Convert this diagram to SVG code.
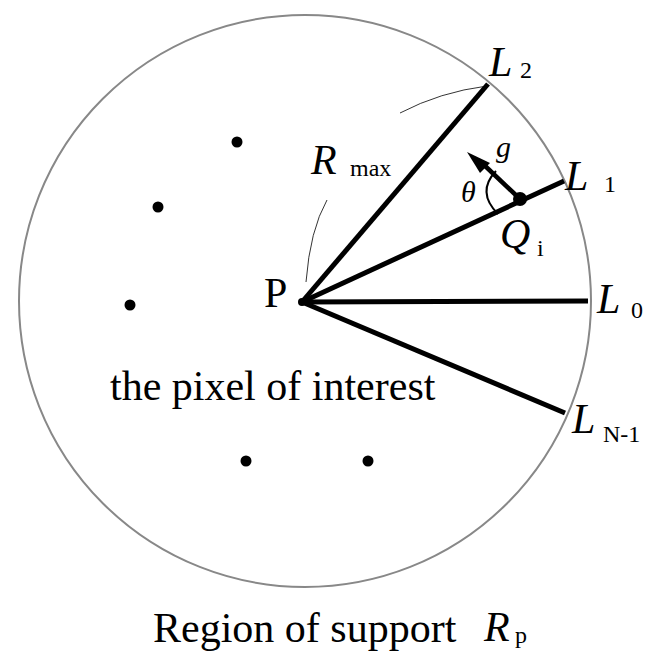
<svg xmlns="http://www.w3.org/2000/svg" width="652" height="657" viewBox="0 0 652 657">
<style>
text{font-family:"Liberation Serif",serif;fill:#000}
.it{font-style:italic}
.big{font-size:42px}
.sub{font-size:24px}
.ray{stroke:#000;stroke-width:5;fill:none}
.thin{stroke:#000;stroke-width:0.8;fill:none}
.dot{fill:#000}
</style>
<rect width="652" height="657" fill="#fff"/>
<g id="region"><circle cx="305" cy="301" r="286" fill="none" stroke="#888" stroke-width="2"/></g>
<g id="arcs">
<path class="thin" d="M306 282 Q310 230 327 200"/>
<path class="thin" d="M400 113 Q440 92 487 86"/>
</g>
<g id="connectors">
<line class="ray" x1="302" y1="302" x2="488" y2="84"/>
<line class="ray" x1="302" y1="302" x2="564" y2="181"/>
<line class="ray" x1="302" y1="302" x2="588" y2="301"/>
<line class="ray" x1="302" y1="302" x2="565" y2="413"/>
<line stroke="#000" stroke-width="4.5" x1="520" y1="199" x2="482" y2="163"/>
<polygon points="467,152 490,163 480,173" fill="#000"/>
<path d="M496 171 Q476 192 498 214" stroke="#000" stroke-width="2" fill="none"/>
</g>
<g id="nodes">
<circle id="P" class="dot" cx="302" cy="302" r="4"/>
<circle id="Q" class="dot" cx="520" cy="199" r="7"/>
<circle class="dot" cx="237" cy="142" r="5.5"/>
<circle class="dot" cx="158" cy="207" r="5.5"/>
<circle class="dot" cx="130" cy="305" r="5.5"/>
<circle class="dot" cx="246" cy="461" r="5.5"/>
<circle class="dot" cx="368" cy="461" r="5.5"/>
</g>
<g id="labels">
<text x="489" y="76" class="it big">L</text><text x="520" y="78" class="sub">2</text>
<text x="565" y="190" class="it big">L</text><text x="604" y="192" class="sub">1</text>
<text x="597" y="313" class="it big">L</text><text x="631" y="318" class="sub">0</text>
<text x="572" y="433" class="it big">L</text><text x="603" y="442" class="sub" font-size="21">N-1</text>
<text x="264" y="307" class="big">P</text>
<text x="311" y="174" class="it big">R</text><text x="350" y="176" class="sub">max</text>
<text x="496" y="157" class="it" font-size="30">g</text>
<text x="461" y="202" class="it" font-size="30">θ</text>
<text x="500" y="248" class="it big">Q</text><text x="537" y="256" class="sub">i</text>
<text x="110" y="400" class="big">the pixel of interest</text>
<text x="153" y="642" class="big">Region of support</text><text x="484" y="641" class="it big">R</text><text x="515" y="643" class="sub">p</text>
</g>
</svg>
